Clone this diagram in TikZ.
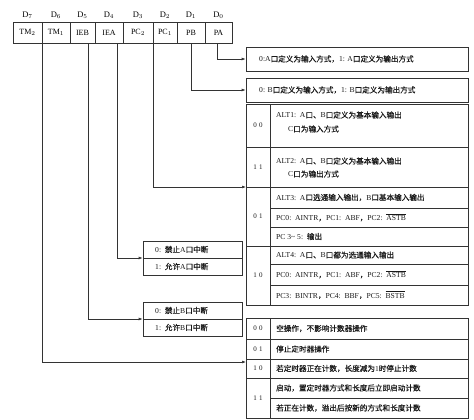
\documentclass[tikz,border=0pt]{standalone}
\usepackage{fontspec}
\setmainfont{Liberation Serif}
\newfontfamily\cjk[FakeBold=0.6]{Noto Sans CJK SC}
\usetikzlibrary{arrows.meta}
\newcommand\zh[1]{{\cjk #1}}
\newcommand\ovl[1]{$\overline{\hbox{#1}}$}
\begin{document}
\begin{tikzpicture}[x=1pt,y=-1pt,
  ln/.style={draw=black!80, line width=0.6pt},
  cell/.style={draw=black!80, line width=0.6pt, minimum height=21pt, inner sep=0pt, font=\fontsize{8}{9}\selectfont},
  bitlbl/.style={inner sep=0pt, font=\fontsize{8.5}{9}\selectfont},
  box/.style={draw=black!80, line width=0.6pt, inner sep=0pt},
  txt/.style={anchor=west, inner sep=0pt, font=\fontsize{7.6}{9}\selectfont, text=black!90},
  code/.style={inner sep=0pt, font=\fontsize{7}{8}\selectfont, text=black!90},
  arr/.style={draw=black!80, line width=0.6pt, -{Latex[length=4pt,width=2.8pt]}}]
\useasboundingbox (0,0) rectangle (474,420);
% register cells
\node[cell, minimum width=29pt] (d7) at (27.5,32.5) {TM$_2$};
\node[cell, minimum width=28pt] (d6) at (56,32.5) {TM$_1$};
\node[cell, minimum width=25pt] (d5) at (82.5,32.5) {IEB};
\node[cell, minimum width=28pt] (d4) at (109,32.5) {IEA};
\node[cell, minimum width=30pt] (d3) at (138,32.5) {PC$_2$};
\node[cell, minimum width=24pt] (d2) at (165,32.5) {PC$_1$};
\node[cell, minimum width=28pt] (d1) at (191,32.5) {PB};
\node[cell, minimum width=27pt] (d0) at (218.5,32.5) {PA};
% bit labels
\node[bitlbl] (l7) at (27.5,15) {D$_7$};
\node[bitlbl] (l6) at (56,15) {D$_6$};
\node[bitlbl] (l5) at (82.5,15) {D$_5$};
\node[bitlbl] (l4) at (109,15) {D$_4$};
\node[bitlbl] (l3) at (138,15) {D$_3$};
\node[bitlbl] (l2) at (165,15) {D$_2$};
\node[bitlbl] (l1) at (191,15) {D$_1$};
\node[bitlbl] (l0) at (218.5,15) {D$_0$};

% PA / PB boxes
\node[box, minimum width=222pt, minimum height=24pt] (boxa) at (357,59) {};
\node[txt] (ta) at (259,59) {0:A\zh{口定义为输入方式，}1: A\zh{口定义为输出方式}};
\node[box, minimum width=222pt, minimum height=24pt] (boxb) at (357,90) {};
\node[txt] (tb) at (259,90) {0: B\zh{口定义为输入方式，}1: B\zh{口定义为输出方式}};

% PC box
\node[box, minimum width=222pt, minimum height=201pt] (pcbox) at (357,204.5) {};
\coordinate (pcin) at (246,187);
\draw[ln] (270,104) -- (270,305);
\draw[ln] (246,147) -- (468,147);
\draw[ln] (246,187) -- (468,187);
\draw[ln] (246,246) -- (468,246);
\draw[ln] (270,208) -- (468,208);
\draw[ln] (270,227) -- (468,227);
\draw[ln] (270,264) -- (468,264);
\draw[ln] (270,285) -- (468,285);
\node[code] (c1) at (258,125.5) {0\,\,0};
\node[code] (c2) at (258,167) {1\,\,1};
\node[code] (c3) at (258,216.5) {0\,\,1};
\node[code] (c4) at (258,275.5) {1\,\,0};
\node[txt] (p1a) at (276,115) {ALT1:\ \ A\zh{口、}B\zh{口定义为基本输入输出}};
\node[txt] (p1b) at (288,129) {C\zh{口为输入方式}};
\node[txt] (p2a) at (276,161) {ALT2:\ \ A\zh{口、}B\zh{口定义为基本输入输出}};
\node[txt] (p2b) at (288,174) {C\zh{口为输出方式}};
\node[txt] (p3a) at (276,197.5) {ALT3:\ \ A\zh{口选通输入输出，}B\zh{口基本输入输出}};
\node[txt] (p3b) at (276,217.5) {PC0:\ \ AINTR\zh{，}PC1:\ \ ABF\zh{，}PC2:\ \ \ovl{ASTB}};
\node[txt] (p3c) at (276,236.5) {PC 3\textasciitilde\ 5:\ \ \zh{输出}};
\node[txt] (p4a) at (276,255) {ALT4:\ \ A\zh{口、}B\zh{口都为选通输入输出}};
\node[txt] (p4b) at (276,274.5) {PC0:\ \ AINTR\zh{，}PC1:\ \ ABF\zh{，}PC2:\ \ \ovl{ASTB}};
\node[txt] (p4c) at (276,295) {PC3:\ \ BINTR\zh{，}PC4:\ \ BBF\zh{，}PC5:\ \ \ovl{BSTB}};

% interrupt boxes
\node[box, minimum width=99pt, minimum height=34pt] (inta) at (192.5,258) {};
\draw[ln] (143,258) -- (242,258);
\node[txt] (ia1) at (155,249.5) {0:\ \ \zh{禁止}A\zh{口中断}};
\node[txt] (ia2) at (155,266.5) {1:\ \ \zh{允许}A\zh{口中断}};
\node[box, minimum width=99pt, minimum height=34pt] (intb) at (192.5,319) {};
\draw[ln] (143,319) -- (242,319);
\node[txt] (ib1) at (155,310.5) {0:\ \ \zh{禁止}B\zh{口中断}};
\node[txt] (ib2) at (155,327.5) {1:\ \ \zh{允许}B\zh{口中断}};

% timer box
\node[box, minimum width=222pt, minimum height=100pt] (tmbox) at (357,368) {};
\coordinate (tmin) at (246,362);
\draw[ln] (270,318) -- (270,418);
\draw[ln] (246,339) -- (468,339);
\draw[ln] (246,359) -- (468,359);
\draw[ln] (246,378) -- (468,378);
\draw[ln] (270,398) -- (468,398);
\node[code] (t1) at (258,328.5) {0\,\,0};
\node[code] (t2) at (258,349) {0\,\,1};
\node[code] (t3) at (258,368.5) {1\,\,0};
\node[code] (t4) at (258,398) {1\,\,1};
\node[txt] (tt1) at (276,328.5) {\zh{空操作，不影响计数器操作}};
\node[txt] (tt2) at (276,349) {\zh{停止定时器操作}};
\node[txt] (tt3) at (276,368.5) {\zh{若定时器正在计数，长度减为}1\zh{时停止计数}};
\node[txt] (tt4) at (276,388) {\zh{启动，置定时器方式和长度后立即启动计数}};
\node[txt] (tt5) at (276,408) {\zh{若正在计数，溢出后按新的方式和长度计数}};

% connectors
\draw[arr] ([xshift=-1.5pt]d0.south) |- (boxa.west);
\draw[arr] (d1.south) |- (boxb.west);
\draw[arr] (d3.south east) |- (pcin);
\draw[arr] ([xshift=8pt]d4.south) |- (inta.west);
\draw[arr] ([xshift=5.5pt]d5.south) |- (intb.west);
\draw[arr] (d7.south east) |- (tmin);
\end{tikzpicture}
\end{document}
